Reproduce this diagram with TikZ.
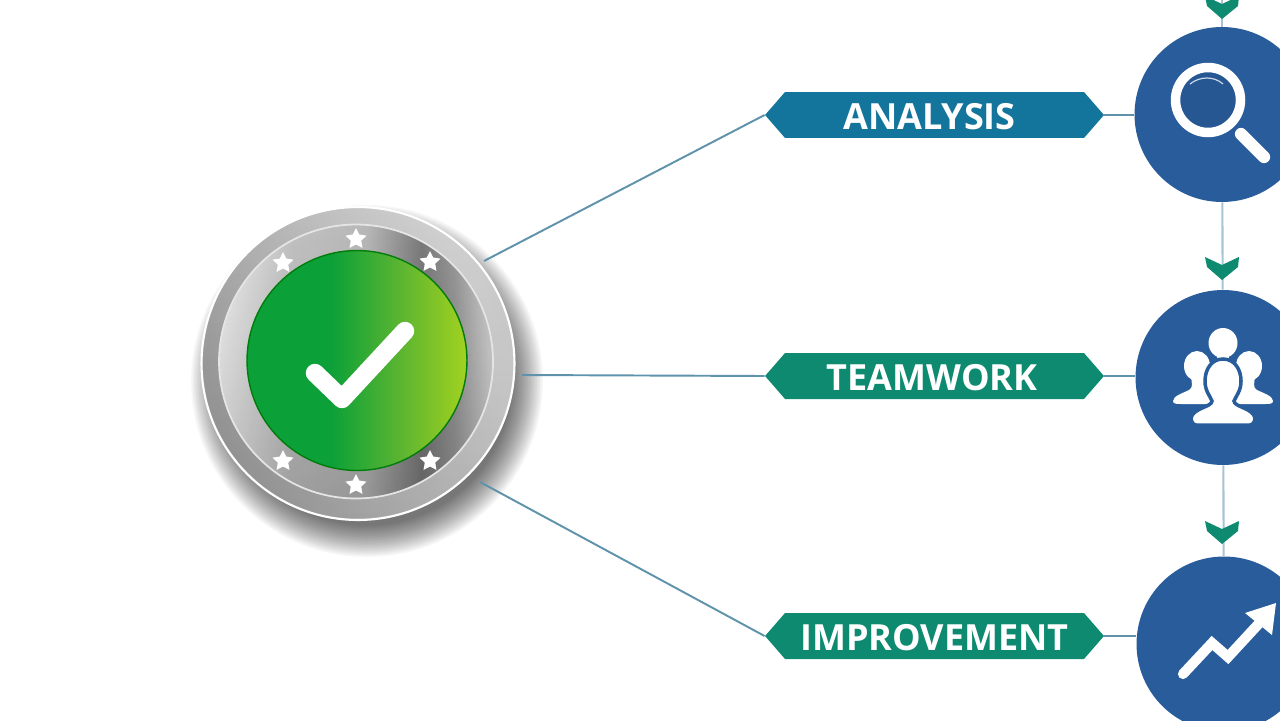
\documentclass[tikz,border=0pt]{standalone}
\usepackage{fontspec}
\setmainfont{Open Sans}
\usetikzlibrary{shapes.geometric,shapes.symbols,fadings}
\definecolor{iconblue}{HTML}{285C9B}
\definecolor{tagblue}{HTML}{13759B}
\definecolor{taggreen}{HTML}{0E8A70}
\definecolor{chevgreen}{HTML}{0D8A70}
\definecolor{linkblue}{HTML}{5F93AB}
\definecolor{linkpale}{HTML}{A6C4D4}
\definecolor{greenleft}{HTML}{0BA038}
\definecolor{greenmid}{HTML}{5CB531}
\definecolor{greenright}{HTML}{A2D21F}
\pgfdeclarehorizontalshading{outerband}{100bp}{color(0bp)=(black!40);color(25bp)=(black!38);color(45bp)=(black!28);color(70bp)=(black!18);color(100bp)=(black!20)}
\pgfdeclarehorizontalshading{innerband}{100bp}{color(0bp)=(black!6);color(25bp)=(black!6);color(38bp)=(black!24);color(52bp)=(black!28);color(62bp)=(black!52);color(68bp)=(black!40);color(75bp)=(black!16);color(100bp)=(black!16)}
\pgfdeclarehorizontalshading{greenface}{100bp}{color(0bp)=(greenleft);color(25bp)=(greenleft);color(44bp)=(greenleft);color(60bp)=(greenmid);color(75bp)=(greenright);color(100bp)=(greenright)}
\begin{document}
\begin{tikzpicture}[x=.02cm, y=-.02cm,
  tag node/.style={signal,signal to=west and east,signal pointer angle=98,minimum width=6.78cm,minimum height=.92cm,inner sep=0pt,text=white,text height=16.3pt,text depth=0pt,font=\fontsize{20.5}{24}\selectfont\bfseries},
  icon node/.style={circle,fill=iconblue,minimum size=3.5cm,inner sep=0pt},
  star node/.style={star,star points=5,star point ratio=2,fill=white,minimum size=.44cm,inner sep=0pt},
  link/.style={draw=linkblue,line width=1.1pt},
  drop link/.style={draw=linkpale,line width=1.2pt},
  icon line/.style={draw=white,line cap=round,line join=round}]
\useasboundingbox (0,0) rectangle (1280,720);
\clip (0,0) rectangle (1280,720);
\fill[white] (0,0) rectangle (1280,720);

% shadow under the badge
\foreach \r in {176,174.5,...,144}
  \fill[black,fill opacity=.03] (367,381) circle[radius=\r];

\node [tag node,fill=tagblue](t1) at (934.5,115) {ANALYSIS\hspace*{.2cm}};
\node [tag node,fill=taggreen](t2) at (934.5,376) {TEAMWORK\hspace*{.1cm}};
\node [tag node,fill=taggreen](t3) at (934.5,636) {IMPROVEMENT};
\node [icon node](c1) at (1222,114.5) {};
\node [icon node](c2) at (1223,377.5) {};
\node [icon node](c3) at (1224,644) {};
\coordinate (e0) at (1222,0);
\coordinate (b1) at (484,261);
\coordinate (b2) at (522,375);
\coordinate (b3) at (480,482);

\path[link]
    (b1) edge (t1.west)
    (b2) edge (t2.west)
    (b3) edge (t3.west)
    (t1.east) edge (t1.east -| c1.west)
    (t2.east) edge (t2.east -| c2.west)
    (t3.east) edge (t3.east -| c3.west)
    ;
\path[drop link]
    (e0) edge (c1)
    (c1) edge (c2)
    (c2) edge (c3)
    ;
\foreach \y in {19,280,544}
  \fill[chevgreen] (1205,\y-23) -- (1222,\y-15) -- (1239,\y-23) -- (1238,\y-13) -- (1222,\y) -- (1207,\y-13) -- cycle;

% badge
\node [circle,draw=white,line width=1.2pt,shade,shading=outerband,shading angle=20,minimum size=6.26cm,inner sep=0pt](m1) at (358,363.5) {};
\fill[black,path fading=north,fill opacity=.1] (358,363.5) circle[radius=155];
\node [circle,draw=white!90!black,line width=1pt,shade,shading=innerband,minimum size=5.48cm,inner sep=0pt](m2) at (356,361.5) {};
\fill[black,path fading=north,fill opacity=.18] (356,361.5) circle[radius=136];
\node [circle,draw=green!45!black!80!greenleft,line width=.8pt,shade,shading=greenface,minimum size=4.4cm,inner sep=0pt](m3) at (357,360.5) {};
\node [star node](s1) at (356,239) {};
\node [star node](s2) at (283,263) {};
\node [star node](s3) at (430,262) {};
\node [star node](s4) at (283,461) {};
\node [star node](s5) at (430,461) {};
\node [star node](s6) at (356,485) {};
\draw[icon line,line width=10.5pt] (315,373) -- (342,399) -- (405,331);

% magnifier
\fill[black!5!iconblue] (1208,100) circle[radius=28];
\draw[white,line width=5.4pt] (1208,100) circle[radius=32.5];
\draw[icon line,line width=7pt] (1241,134) -- (1264,157);
\draw[white!75!iconblue,line width=.7pt] (1190,84) .. controls (1200,76) and (1214,76) .. (1223,84);

% team
\foreach \m in {1,-1}{
  \begin{scope}[shift={(1223,0)},xscale=\m]
  \fill[white] (-26,366) ellipse[x radius=13,y radius=15];
  \fill[white] (-32,376) .. controls (-31,384) and (-30,388) .. (-34,390) .. controls (-40,393) and (-50,396) .. (-50,401) .. controls (-50,404) and (-46,404) .. (-42,404) -- (-8,404) -- (-8,380) -- cycle;
  \end{scope}
}
\fill[white] (1223,343) ellipse[x radius=14.5,y radius=15];
\fill[white] (1217,355) -- (1229,355) -- (1229,366) -- (1217,366) -- cycle;
\filldraw[fill=white,draw=iconblue,line width=2pt] (1223,359)
  .. controls (1235,359) and (1241,370) .. (1241,381)
  .. controls (1241,391) and (1236,396) .. (1234,401)
  .. controls (1234,407) and (1253,408) .. (1255,418)
  .. controls (1255,421) and (1253,425) .. (1250,425)
  -- (1196,425)
  .. controls (1193,425) and (1191,421) .. (1191,418)
  .. controls (1193,408) and (1212,407) .. (1212,401)
  .. controls (1210,396) and (1205,391) .. (1205,381)
  .. controls (1205,370) and (1211,359) .. (1223,359) -- cycle;

% rising arrow
\draw[icon line,line width=5.8pt,miter limit=4,line join=miter] (1183,674) -- (1212,643) -- (1228,657) -- (1264,618);
\fill[white] (1276,603) -- (1245,613) -- (1272,635) -- cycle;
\end{tikzpicture}
\end{document}
